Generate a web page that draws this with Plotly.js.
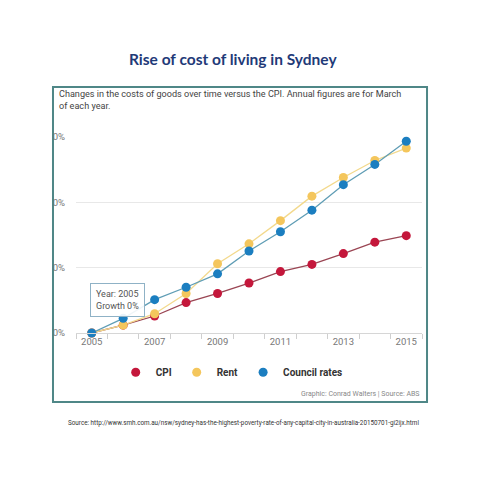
<!DOCTYPE html>
<html><head><meta charset="utf-8">
<script src="https://cdn.plot.ly/plotly-3.0.1.min.js"></script>
<style>html,body{margin:0;padding:0;background:#fff;}#chart{width:480px;height:480px;}</style>
</head><body><div id="chart"></div>
<script>
const years = [2005,2006,2007,2008,2009,2010,2011,2012,2013,2014,2015];
const cpi = [0,2.4,5.2,9.3,12.1,15.3,18.8,21.0,24.3,27.8,29.8];
const rent = [0,2.4,5.9,12.1,21.2,27.3,34.4,41.9,47.6,52.8,56.6];
const council = [0,4.5,10.2,14.0,18.1,25.1,31.0,37.6,45.4,51.6,58.7];
const yTickVals = [0,20,40,60];
const yTickText = ["0%","0%","0%","0%"];
const xTickVals = [2005,2007,2009,2011,2013,2015];
const seriesNames = ["CPI","Rent","Council rates"];

const markerColors = ["#c4173b","#f4c65c","#1b7ec0"];
const lineColors = ["#9a4553","#f3d98c","#5f9db5"];
const data = [cpi, rent, council];

const traces = [];
data.forEach((vals,i)=>{
  traces.push({x:years,y:vals,mode:'lines',line:{color:lineColors[i],width:1.3},
    showlegend:false,hoverinfo:'skip',cliponaxis:false});
});
data.forEach((vals,i)=>{
  traces.push({x:years,y:vals,mode:'markers',name:seriesNames[i],
    marker:{color:markerColors[i],size:9},cliponaxis:false});
});

const small = 'Roboto, Arial';
const layout = {
  width:480,height:480,
  paper_bgcolor:'#fff',plot_bgcolor:'#fff',
  margin:{l:76,r:58,t:137,b:147},
  title:{text:'Rise of cost of living in Sydney',x:0.485,xanchor:'center',y:0.875,yanchor:'middle',
    font:{family:'Lato',size:15.5,color:'#1f3a78',weight:'bold'}},
  xaxis:{range:[2004.5,2015.5],tickvals:xTickVals,ticktext:xTickVals.map(String),ticks:'',
    showgrid:false,zeroline:false,showline:true,linecolor:'#d6d6d6',linewidth:1,
    tickfont:{family:small,size:9.5,color:'#777'},
    minor:{tick0:2004.5,dtick:1,ticks:'outside',ticklen:5,tickcolor:'#cfcfcf',showgrid:false}},
  yaxis:{range:[0,60],tickvals:yTickVals,ticktext:yTickText,showgrid:true,gridcolor:'#e8e8e8',
    zeroline:false,showline:false,ticks:'',ticklabelstandoff:10,
    tickfont:{family:small,size:9.5,color:'#777'}},
  legend:{orientation:'h',x:0.45,xanchor:'center',y:-0.2,yanchor:'middle',
    font:{family:small,size:10,color:'#333',weight:'bold'},
    itemwidth:30,tracegroupgap:0,bgcolor:'rgba(0,0,0,0)'},
  shapes:[
    {type:'rect',xref:'paper',yref:'paper',x0:-0.0665,x1:1.0145,y0:-0.352,y1:1.255,
     line:{color:'#4f8787',width:2},fillcolor:'rgba(0,0,0,0)',layer:'below'}
  ],
  annotations:[
    {xref:'paper',yref:'paper',x:-0.055,y:1.255,xanchor:'left',yanchor:'top',align:'left',showarrow:false,
     text:'Changes in the costs of goods over time versus the CPI. Annual figures are for March<br>of each year.',
     font:{family:small,size:9.1,color:'#444'}},
    {xref:'paper',yref:'paper',x:1.0,y:-0.31,xanchor:'right',yanchor:'middle',showarrow:false,
     text:'Graphic: Conrad Walters | Source: ABS',
     font:{family:small,size:7,color:'#888'}},
    {xref:'x',yref:'y',x:years[0],y:cpi[0],ax:26,ay:-33,axref:'pixel',ayref:'pixel',
     showarrow:true,arrowhead:0,arrowwidth:1,arrowcolor:'rgba(0,0,0,0)',standoff:0,
     text:'Year: 2005<br>Growth 0%',align:'left',bgcolor:'rgba(255,255,255,0.9)',bordercolor:'#8fb2c6',borderwidth:1,borderpad:5,
     font:{family:small,size:9,color:'#555'}},
    {xref:'paper',yref:'paper',x:0.485,y:-0.46,xanchor:'center',yanchor:'middle',showarrow:false,
     text:'Source: http://www.smh.com.au/nsw/sydney-has-the-highest-poverty-rate-of-any-capital-city-in-australia-20150701-gi2ijx.html',
     font:{family:small,size:6.3,color:'#333'}}
  ]
};
Plotly.newPlot('chart',traces,layout,{displayModeBar:false,staticPlot:true});
</script></body></html>
